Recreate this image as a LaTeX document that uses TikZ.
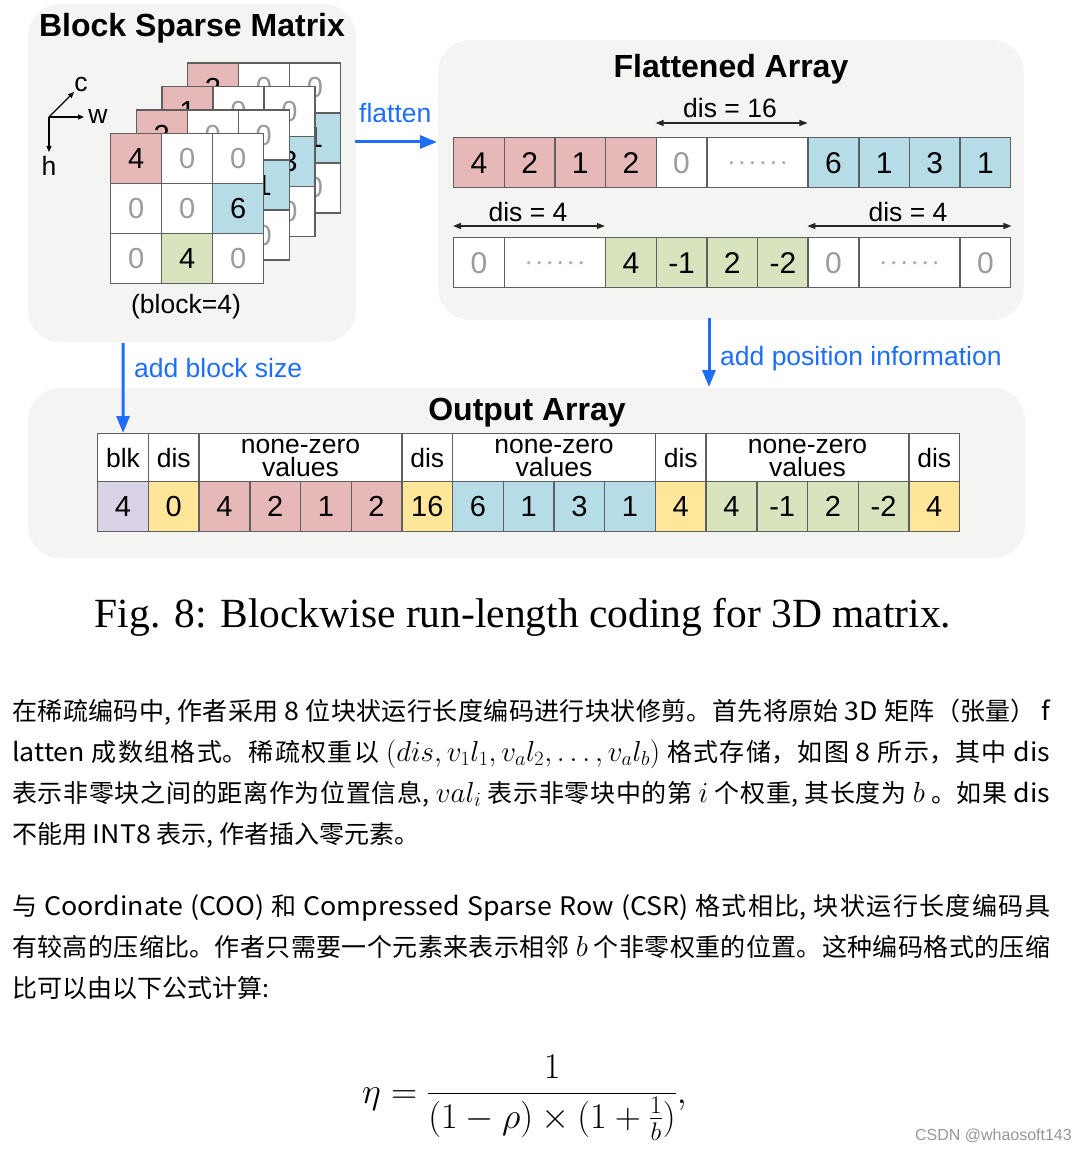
\RequirePackage{fix-cm}
\documentclass[tikz,border=0pt]{standalone}
\usepackage{amsmath}
\usepackage{fontspec}
\newfontfamily\arialf{Liberation Sans}
\newfontfamily\timesf{Liberation Serif}
\newfontfamily\cjkf{Noto Sans CJK SC}
\newfontfamily\latf{Noto Sans CJK SC}[FakeStretch=1.05, Scale=1.02]
\usetikzlibrary{arrows.meta,calc}
\XeTeXlinebreaklocale "zh"
\XeTeXlinebreakskip=0pt plus 3pt minus 0.6pt
\newcommand\pmath[1]{{\fontsize{29}{41}\selectfont$#1$}}
\newcommand\latn[1]{{\latf #1}}
\definecolor{panelc}{RGB}{244,244,242}
\definecolor{cellln}{RGB}{95,95,95}
\definecolor{cred}{RGB}{230,185,184}
\definecolor{cblue}{RGB}{182,220,231}
\definecolor{cgreen}{RGB}{216,228,190}
\definecolor{cyel}{RGB}{255,230,153}
\definecolor{cpur}{RGB}{218,211,232}
\definecolor{zgray}{RGB}{155,155,155}
\definecolor{dotc}{RGB}{170,170,170}
\definecolor{blueA}{RGB}{30,110,250}
\definecolor{wmgray}{RGB}{150,150,150}
\begin{document}
\begin{tikzpicture}[x=1pt,y=-1pt,
  panel/.style={fill=panelc, draw=none, rounded corners=32pt},
  cellbase/.style={draw=cellln, line width=1.4pt, inner sep=0pt, anchor=north west, text=black},
  mcell/.style={cellbase, minimum width=51pt, minimum height=50pt, font=\arialf\fontsize{29}{29}\selectfont},
  fcell/.style={cellbase, minimum height=50pt, font=\arialf\fontsize{30}{30}\selectfont},
  ocell/.style={cellbase, minimum width=50.7pt, minimum height=50pt, font=\arialf\fontsize{29}{29}\selectfont},
  hcell/.style={cellbase, fill=white, minimum height=48pt, align=center, font=\arialf\fontsize{26.5}{23}\selectfont},
  rc/.style={fill=cred}, bc/.style={fill=cblue}, gc/.style={fill=cgreen},
  yc/.style={fill=cyel}, pc/.style={fill=cpur}, zc/.style={fill=white, text=zgray},
  lbl/.style={font=\arialf\fontsize{26.5}{26.5}\selectfont, inner sep=0pt},
  ttl/.style={font=\arialf\bfseries\fontsize{32}{32}\selectfont, inner sep=0pt, anchor=base},
  blab/.style={lbl, text=blueA, anchor=base west},
  blarr/.style={draw=blueA, line width=3pt, -{Triangle[length=17pt,width=13pt]}},
  disarr/.style={draw=black!85, line width=1.2pt, {Triangle[length=8pt,width=6pt]}-{Triangle[length=8pt,width=6pt]}},
  axarr/.style={draw=black, line width=1.3pt, -{Triangle[length=6pt,width=5pt]}},
  para/.style={font=\cjkf\fontsize{25}{41}\selectfont, text width=1038pt, align=justify, inner sep=0pt, anchor=base west},
]
\useasboundingbox (0,0) rectangle (1086,1150);
\fill[white] (0,0) rectangle (1086,1150);

% panels
\path[panel] (28,4) rectangle (356,342);
\path[panel] (438,40) rectangle (1024,320);
\path[panel] (28,388) rectangle (1025,558);

% titles
\node[ttl] (t1) at (192,37) {Block Sparse Matrix};
\node[ttl] (t2) at (731,78) {Flattened Array};
\node[ttl] (t3) at (527,420) {Output Array};

% axes
\coordinate (ao) at (49,117);
\coordinate (ac) at (74,92);
\coordinate (aw) at (84,117);
\coordinate (ah) at (49,152);
\draw[axarr] (ao) -- (ac);
\draw[axarr] (ao) -- (aw);
\draw[axarr] (ao) -- (ah);
\node[lbl] (lc) at (81,85) {c};
\node[lbl] (lw) at (98,117) {w};
\node[lbl] (lh) at (49,166) {h};

% stacked block layers
\foreach \k/\rv/\bv/\gv in {3/2/1/-2,2/1/3/2,1/2/1/-1,0/4/6/4}{
  \pgfmathsetmacro\ox{110+25.6*\k}
  \pgfmathsetmacro\oy{133-23.6*\k}
  \foreach \i/\j/\st/\v in {0/0/rc/\rv,0/1/zc/0,0/2/zc/0,1/0/zc/0,1/1/zc/0,1/2/bc/\bv,2/0/zc/0,2/1/gc/\gv,2/2/zc/0}{
    \node[mcell,\st] (m\k\i\j) at (\ox+51*\j,\oy+50*\i) {\v};
  }
}
\node[lbl] (blk) at (186,307) {(block=4)};

% flattened array, top row
\foreach \n/\x/\w/\st/\v in {1/0/1/rc/4,2/1/1/rc/2,3/2/1/rc/1,4/3/1/rc/2,5/4/1/zc/0,6/5/2/zc/{},7/7/1/bc/6,8/8/1/bc/1,9/9/1/bc/3,10/10/1/bc/1}{
  \node[fcell,\st,minimum width=\w*50.64pt] (ft\n) at (453+50.64*\x,137) {\v};
}
% flattened array, bottom row
\foreach \n/\x/\w/\st/\v in {1/0/1/zc/0,2/1/2/zc/{},3/3/1/gc/4,4/4/1/gc/-1,5/5/1/gc/2,6/6/1/gc/-2,7/7/1/zc/0,8/8/2/zc/{},9/10/1/zc/0}{
  \node[fcell,\st,minimum width=\w*50.64pt] (fb\n) at (453+50.64*\x,237) {\v};
}
\foreach \c in {ft6,fb2,fb8}{
  \foreach \d in {-2.5,-1.5,...,2.5}{
    \fill[dotc] ($(\c.center)+(\d*10.5,0)$) circle (1.8pt);
  }
}

% dis arrows
\coordinate (d16a) at ($(ft5.north west)+(0,-14)$);
\coordinate (d16b) at ($(ft7.north west)+(0,-14)$);
\draw[disarr] (d16a) -- (d16b);
\node[lbl,anchor=base] (l16) at (730,118) {dis = 16};
\coordinate (d4a) at ($(fb1.north west)+(0,-11)$);
\coordinate (d4b) at ($(fb3.north west)+(0,-11)$);
\draw[disarr] (d4a) -- (d4b);
\node[lbl,anchor=base] (l4a) at (528,222) {dis = 4};
\coordinate (d4c) at ($(fb7.north west)+(0,-11)$);
\coordinate (d4d) at ($(fb9.north east)+(0,-11)$);
\draw[disarr] (d4c) -- (d4d);
\node[lbl,anchor=base] (l4b) at (908,222) {dis = 4};

% output array header
\foreach \n/\x/\w/\v in {1/0/1/blk,2/1/1/dis,3/2/4/{none-zero\\values},4/6/1/dis,5/7/4/{none-zero\\values},6/11/1/dis,7/12/4/{none-zero\\values},8/16/1/dis}{
  \node[hcell,minimum width=\w*50.7pt] (oh\n) at (97+50.7*\x,433) {\v};
}
% output array values
\foreach \n/\x/\st/\v in {1/0/pc/4,2/1/yc/0,3/2/rc/4,4/3/rc/2,5/4/rc/1,6/5/rc/2,7/6/yc/16,8/7/bc/6,9/8/bc/1,10/9/bc/3,11/10/bc/1,12/11/yc/4,13/12/gc/4,14/13/gc/-1,15/14/gc/2,16/15/gc/-2,17/16/yc/4}{
  \node[ocell,\st] (ov\n) at (97+50.7*\x,481) {\v};
}

% blue arrows
\coordinate (flS) at (355,142);
\coordinate (flE) at (437,142);
\draw[blarr] (flS) -- (flE);
\node[blab] (lfl) at (359,123) {flatten};
\coordinate (bsS) at (123,343);
\draw[blarr] (bsS) -- (oh1.north);
\node[blab] (lbs) at (134,377) {add block size};
\coordinate (apS) at (709,318);
\coordinate (apE) at (709,387);
\draw[blarr] (apS) -- (apE);
\node[blab] (lap) at (720,365) {add position information};

% caption
\node[font=\timesf\fontsize{41.5}{41.5}\selectfont, anchor=base, inner sep=0pt] (cap) at (523,627) {Fig. 8: Blockwise run-length coding for 3D matrix.};

% paragraphs
\node[para] (p1) at (12,720) {\tolerance=10000\emergencystretch=60pt
在稀疏编码中, 作者采用 \latn{8} 位块状运行长度编码进行块状修剪。首先将原始 \latn{3D} 矩阵（张量） \latn{f}\linebreak
\latn{latten} 成数组格式。稀疏权重以 \pmath{(dis, v_1l_1, v_al_2, \ldots, v_al_b)} 格式存储，如图 \latn{8} 所示，其中 \latn{dis}\linebreak
表示非零块之间的距离作为位置信息, \pmath{val_i} 表示非零块中的第 \pmath{i} 个权重, 其长度为 \pmath{b} 。如果 \latn{dis}\linebreak
不能用 \latn{INT8} 表示, 作者插入零元素。};
\node[para] (p2) at (12,915) {\tolerance=10000\emergencystretch=60pt
与 \latn{Coordinate (COO)} 和 \latn{Compressed Sparse Row (CSR)} 格式相比, 块状运行长度编码具\linebreak
有较高的压缩比。作者只需要一个元素来表示相邻 \pmath{b} 个非零权重的位置。这种编码格式的压缩\linebreak
比可以由以下公式计算:};

% formula
\node[anchor=base west, inner sep=0pt, font=\fontsize{36.2}{42}\selectfont] (eq) at (362,1103) {$\displaystyle \eta = \frac{1}{(1-\rho)\times(1+\frac{1}{b})},$};

% watermark
\node[anchor=base east, inner sep=0pt, font=\arialf\fontsize{16}{16}\selectfont, text=wmgray] (wm) at (1072,1140) {CSDN @whaosoft143};
\end{tikzpicture}
\end{document}
